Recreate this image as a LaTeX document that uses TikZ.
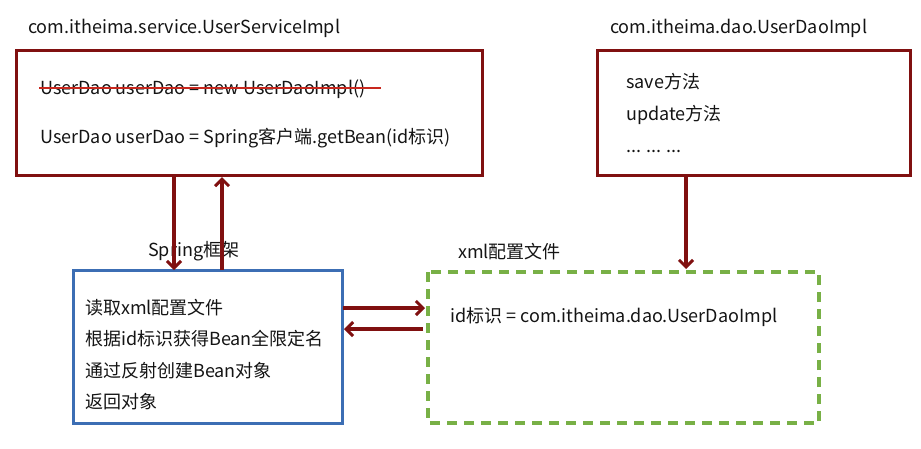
\documentclass[tikz,border=0pt]{standalone}
\usepackage{fontspec}
\setmainfont{Noto Sans CJK SC}
\usetikzlibrary{arrows.meta}
\definecolor{dred}{RGB}{128,16,16}
\definecolor{sred}{RGB}{200,40,30}
\definecolor{bblue}{RGB}{60,110,180}
\definecolor{ggreen}{RGB}{120,176,70}
\definecolor{txt}{RGB}{20,20,20}
\tikzset{
  redbox/.style={draw=dred, line width=3pt},
  bluebox/.style={draw=bblue, line width=3pt},
  greenbox/.style={draw=ggreen, line width=3.2pt, dash pattern=on 10pt off 7pt},
  conn/.style={draw=dred, line width=3.2pt, -{Straight Barb[length=7pt,width=14pt,line width=3pt]}},
  lbl/.style={anchor=base west, inner sep=0pt, text=txt, font=\fontsize{18}{20}\selectfont},
}
\begin{document}
\begin{tikzpicture}[x=1pt,y=-1pt]
\useasboundingbox (0,0) rectangle (921,448);
% boxes
\path[redbox] (16,50) rectangle (482,175);
\node[inner sep=0pt, minimum width=466pt, minimum height=125pt] (svc) at (249,112.5) {};
\path[redbox] (597,50) rectangle (910,175);
\node[inner sep=0pt, minimum width=313pt, minimum height=125pt] (dao) at (753.5,112.5) {};
\path[bluebox] (73,270) rectangle (342,423);
\node[inner sep=0pt, minimum width=269pt, minimum height=153pt] (spring) at (207.5,346.5) {};
\path[greenbox] (428,272) rectangle (819,423);
\node[inner sep=0pt, minimum width=391pt, minimum height=151pt] (xml) at (623.5,347.5) {};
% titles
\node[lbl] (t1) at (28,33) {com.itheima.service.UserServiceImpl};
\node[lbl] (t2) at (610,33) {com.itheima.dao.UserDaoImpl};
\node[lbl] (t3) at (148,256) {Spring框架};
\node[lbl] (t4) at (458,258) {xml配置文件};
% service text
\node[lbl] (s1) at (40,94) {UserDao userDao = new UserDaoImpl()};
\draw[sred, line width=1.8pt] (39,88) -- (381,88);
\node[lbl] (s2) at (40,143) {UserDao userDao = Spring客户端.getBean(id标识)};
% dao text
\node[lbl] (d1) at (626,88) {save方法};
\node[lbl] (d2) at (626,120) {update方法};
\node[lbl] (d3) at (626,152) {... ... ...};
% spring text
\node[lbl] (p1) at (85,314) {读取xml配置文件};
\node[lbl] (p2) at (85,345) {根据id标识获得Bean全限定名};
\node[lbl] (p3) at (85,377) {通过反射创建Bean对象};
\node[lbl] (p4) at (85,408) {返回对象};
% xml text
\node[lbl] (x1) at (450,322) {id标识 = com.itheima.dao.UserDaoImpl};
% connectors
\coordinate (a1s) at (174,176);
\coordinate (a1e) at (174,270);
\coordinate (a2s) at (222,270);
\coordinate (a2e) at (222,177);
\coordinate (a3s) at (686,176);
\coordinate (a3e) at (686,269);
\coordinate (a4s) at (343,308);
\coordinate (a4e) at (425,308);
\coordinate (a5s) at (423,329);
\coordinate (a5e) at (344,329);
\draw[conn] (a1s) -- (a1e);
\draw[conn] (a2s) -- (a2e);
\draw[conn] (a3s) -- (a3e);
\draw[conn] (a4s) -- (a4e);
\draw[conn] (a5s) -- (a5e);
\end{tikzpicture}
\end{document}
